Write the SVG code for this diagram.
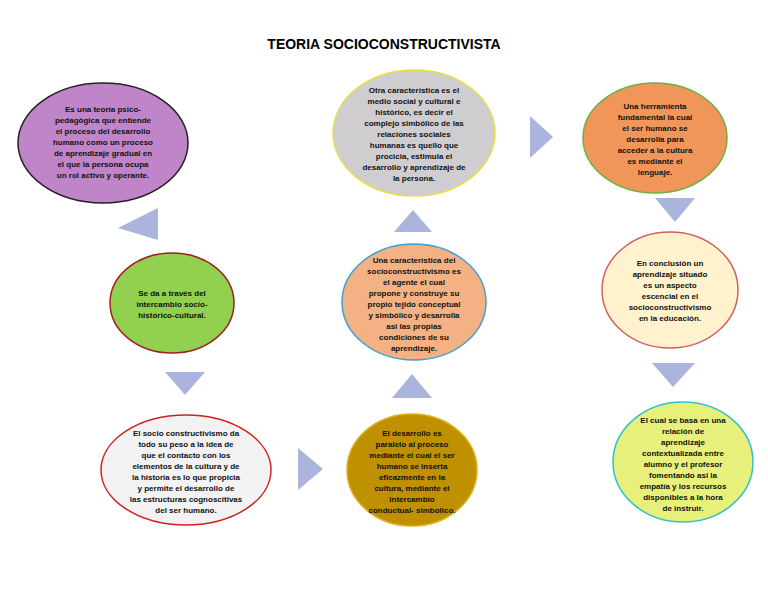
<svg xmlns="http://www.w3.org/2000/svg" width="768" height="594" viewBox="0 0 768 594">
<style>
.t{font-family:"Liberation Sans",Arial,sans-serif;font-weight:bold;font-size:8px;text-anchor:middle;fill:#111}
.a{fill:#aab4dc}
</style>
<rect width="768" height="594" fill="#fff"/>
<text x="384" y="49" style="font-family:'Liberation Sans',Arial,sans-serif;font-weight:bold;font-size:14px;text-anchor:middle">TEORIA SOCIOCONSTRUCTIVISTA</text>
<g id="connectors">
<polygon class="a" points="118,228 158,208 158,240"/>
<polygon class="a" points="165,372 205,372 185,395"/>
<polygon class="a" points="298,448 323,469 298,490"/>
<polygon class="a" points="392,398 432,398 412,374"/>
<polygon class="a" points="394,232 432,232 413,210"/>
<polygon class="a" points="530,116 553,137 530,158"/>
<polygon class="a" points="655,198 695,198 675,222"/>
<polygon class="a" points="652,363 695,363 673,387"/>
</g>
<g id="n1"><ellipse cx="103" cy="143" rx="85" ry="60" fill="#c084c8" stroke="#222" stroke-width="1.5"/>
<text class="t" x="103" y="112"><tspan x="103">Es una teoría psico-</tspan><tspan x="103" dy="11">pedagógica que entiende</tspan><tspan x="103" dy="11">el proceso del desarrollo</tspan><tspan x="103" dy="11">humano como un proceso</tspan><tspan x="103" dy="11">de aprendizaje gradual en</tspan><tspan x="103" dy="11">el que la persona ocupa</tspan><tspan x="103" dy="11">un rol activo y operante.</tspan></text></g>
<g id="n2"><ellipse cx="414" cy="133" rx="81" ry="63" fill="#cfcdd0" stroke="#e8e040" stroke-width="1.5"/>
<text class="t" x="414" y="93"><tspan x="414">Otra característica es el</tspan><tspan x="414" dy="11">medio social y cultural e</tspan><tspan x="414" dy="11">histórico, es decir el</tspan><tspan x="414" dy="11">complejo simbólico de las</tspan><tspan x="414" dy="11">relaciones sociales</tspan><tspan x="414" dy="11">humanas es quello que</tspan><tspan x="414" dy="11">procicia, estimula el</tspan><tspan x="414" dy="11">desarrollo y aprendizaje de</tspan><tspan x="414" dy="11">la persona.</tspan></text></g>
<g id="n3"><ellipse cx="655" cy="138" rx="72" ry="55" fill="#f0965a" stroke="#70b040" stroke-width="1.5"/>
<text class="t" x="655" y="109"><tspan x="655">Una herramienta</tspan><tspan x="655" dy="11">fundamental la cual</tspan><tspan x="655" dy="11">el ser humano se</tspan><tspan x="655" dy="11">desarrolla para</tspan><tspan x="655" dy="11">acceder a la cultura</tspan><tspan x="655" dy="11">es mediante el</tspan><tspan x="655" dy="11">lenguaje.</tspan></text></g>
<g id="n4"><ellipse cx="172" cy="303" rx="62" ry="50" fill="#92d050" stroke="#a02020" stroke-width="1.5"/>
<text class="t" x="172" y="296"><tspan x="172">Se da a través del</tspan><tspan x="172" dy="11">intercambio socio-</tspan><tspan x="172" dy="11">histórico-cultural.</tspan></text></g>
<g id="n5"><ellipse cx="414" cy="302" rx="72" ry="58" fill="#f4b183" stroke="#40a0d0" stroke-width="1.5"/>
<text class="t" x="414" y="263"><tspan x="414">Una característica del</tspan><tspan x="414" dy="11">socioconstructivismo es</tspan><tspan x="414" dy="11">el agente el cual</tspan><tspan x="414" dy="11">propone y construye su</tspan><tspan x="414" dy="11">propio tejido conceptual</tspan><tspan x="414" dy="11">y simbólico y desarrolla</tspan><tspan x="414" dy="11">asi las propias</tspan><tspan x="414" dy="11">condiciones de su</tspan><tspan x="414" dy="11">aprendizaje.</tspan></text></g>
<g id="n6"><ellipse cx="670" cy="290" rx="68" ry="58" fill="#fff2cc" stroke="#d06060" stroke-width="1.5"/>
<text class="t" x="670" y="266"><tspan x="670">En conclusión un</tspan><tspan x="670" dy="11">aprendizaje situado</tspan><tspan x="670" dy="11">es un aspecto</tspan><tspan x="670" dy="11">escencial en el</tspan><tspan x="670" dy="11">socioconstructivismo</tspan><tspan x="670" dy="11">en la educación.</tspan></text></g>
<g id="n7"><ellipse cx="186" cy="470" rx="85" ry="55" fill="#f2f2f2" stroke="#d02020" stroke-width="1.5"/>
<text class="t" x="186" y="436"><tspan x="186">El socio constructivismo da</tspan><tspan x="186" dy="11">todo su peso a la idea de</tspan><tspan x="186" dy="11">que el contacto con los</tspan><tspan x="186" dy="11">elementos de la cultura y de</tspan><tspan x="186" dy="11">la historia es lo que propicia</tspan><tspan x="186" dy="11">y permite el desarrollo de</tspan><tspan x="186" dy="11">las estructuras cognoscitivas</tspan><tspan x="186" dy="11">del ser humano.</tspan></text></g>
<g id="n8"><ellipse cx="412" cy="470" rx="65" ry="56" fill="#bf9000" stroke="#e0b020" stroke-width="1.5"/>
<text class="t" x="412" y="436"><tspan x="412">El desarrollo es</tspan><tspan x="412" dy="11">paralelo al proceso</tspan><tspan x="412" dy="11">mediante el cual el ser</tspan><tspan x="412" dy="11">humano se inserta</tspan><tspan x="412" dy="11">eficazmente en la</tspan><tspan x="412" dy="11">cultura, mediante el</tspan><tspan x="412" dy="11">intercambio</tspan><tspan x="412" dy="11">conductual- simbolico.</tspan></text></g>
<g id="n9"><ellipse cx="683" cy="462" rx="70" ry="60" fill="#e6f07a" stroke="#30c0d0" stroke-width="1.5"/>
<text class="t" x="683" y="423"><tspan x="683">El cual se basa en una</tspan><tspan x="683" dy="11">relación de</tspan><tspan x="683" dy="11">aprendizaje</tspan><tspan x="683" dy="11">contextualizada entre</tspan><tspan x="683" dy="11">alumno y el profesor</tspan><tspan x="683" dy="11">fomentando asi la</tspan><tspan x="683" dy="11">empatía y los recursos</tspan><tspan x="683" dy="11">disponibles a la hora</tspan><tspan x="683" dy="11">de instruir.</tspan></text></g>
</svg>
